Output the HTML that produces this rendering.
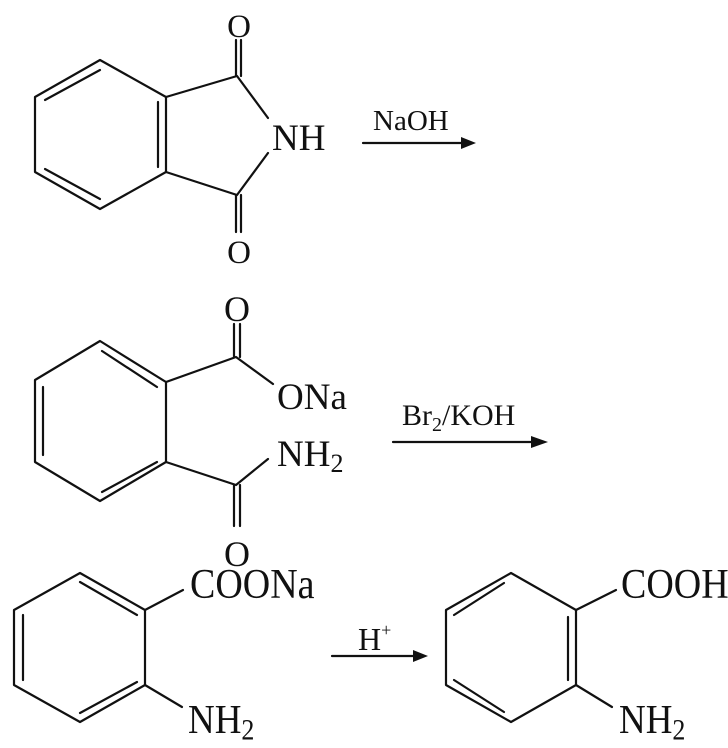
<!DOCTYPE html>
<html><head><meta charset="utf-8"><style>html,body{margin:0;padding:0;background:#fff}svg{display:block}</style></head>
<body>
<svg width="728" height="748" viewBox="0 0 728 748" xmlns="http://www.w3.org/2000/svg">
<g stroke="#111" stroke-width="2.2" fill="none" stroke-linecap="round" stroke-linejoin="round">
<!-- Mol 1 -->
<polygon points="100,60 35,97 35,172 100,209 166,172 166,97"/>
<line x1="45" y1="100" x2="100" y2="70"/>
<line x1="45" y1="169" x2="100" y2="199"/>
<line x1="158" y1="102" x2="158" y2="167"/>
<polyline points="166,97 237,76 268,118"/>
<polyline points="166,172 237,195 268,153"/>
<line x1="236" y1="40" x2="236" y2="76"/><line x1="241" y1="40" x2="241" y2="76"/>
<line x1="236" y1="195" x2="236" y2="232"/><line x1="241" y1="195" x2="241" y2="232"/>
<line x1="363" y1="143" x2="463" y2="143"/>
<!-- Mol 2 -->
<polygon points="100,341 35,380 35,462 100,501 166,462 166,382"/>
<line x1="102" y1="351" x2="157" y2="387"/>
<line x1="43" y1="387" x2="43" y2="455"/>
<line x1="102" y1="492" x2="157" y2="462"/>
<polyline points="166,382 236,357 273,384"/>
<polyline points="166,462 236,485 268,459"/>
<line x1="234" y1="324" x2="234" y2="357"/><line x1="240" y1="324" x2="240" y2="357"/>
<line x1="234" y1="485" x2="234" y2="526"/><line x1="240" y1="485" x2="240" y2="526"/>
<line x1="393" y1="442" x2="533" y2="442"/>
<!-- Mol 3 -->
<polygon points="80,573 14,610 14,685 80,722 145,685 145,610"/>
<line x1="80" y1="582" x2="137" y2="615"/>
<line x1="23" y1="615" x2="23" y2="680"/>
<line x1="80" y1="713" x2="137" y2="682"/>
<line x1="145" y1="610" x2="183" y2="590"/>
<line x1="145" y1="685" x2="182" y2="707"/>
<line x1="332" y1="656" x2="415" y2="656"/>
<!-- Mol 4 -->
<polygon points="511,573 446,610 446,685 511,722 576,685 576,610"/>
<line x1="454" y1="615" x2="504" y2="583"/>
<line x1="568" y1="617" x2="568" y2="680"/>
<line x1="454" y1="680" x2="504" y2="712"/>
<line x1="576" y1="610" x2="616" y2="590"/>
<line x1="576" y1="685" x2="612" y2="707"/>
</g>
<g fill="#111">
<polygon points="461,137 476,143 461,149"/>
<polygon points="531,436 548,442 531,448"/>
<polygon points="413,650 428,656 413,662"/>
</g>
<g font-family="Liberation Serif, serif" fill="#111">
<text x="239" y="37" font-size="33" text-anchor="middle">O</text>
<text x="239" y="263" font-size="33" text-anchor="middle">O</text>
<text x="272" y="150" font-size="37">NH</text>
<text x="373" y="130" font-size="29">NaOH</text>
<text x="237" y="321" font-size="36" text-anchor="middle">O</text>
<text x="237" y="566" font-size="36" text-anchor="middle">O</text>
<text x="277" y="409" font-size="37">ONa</text>
<text x="277" y="466" font-size="37">NH<tspan font-size="26" dy="6">2</tspan></text>
<text x="402" y="425" font-size="30">Br<tspan font-size="20" dy="6">2</tspan><tspan dy="-6">/KOH</tspan></text>
<text x="190" y="598" font-size="38" transform="translate(190,598) scale(1,1.12) translate(-190,-598)">COONa</text>
<text x="188" y="733" font-size="37" transform="translate(188,733) scale(1,1.12) translate(-188,-733)">NH<tspan font-size="26" dy="6">2</tspan></text>
<text x="358" y="650" font-size="32">H<tspan font-size="18" dy="-14">+</tspan></text>
<text x="621" y="598" font-size="38" transform="translate(621,598) scale(1,1.12) translate(-621,-598)">COOH</text>
<text x="619" y="733" font-size="37" transform="translate(619,733) scale(1,1.12) translate(-619,-733)">NH<tspan font-size="26" dy="6">2</tspan></text>
</g>
</svg>
</body></html>
